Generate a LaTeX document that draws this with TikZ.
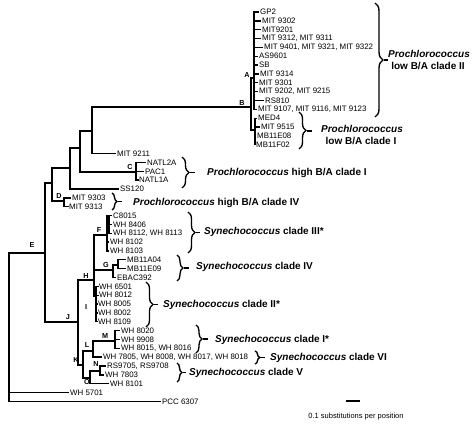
\documentclass[tikz,border=0pt]{standalone}
\usepackage{fontspec}
\setmainfont{Liberation Sans}
\usetikzlibrary{decorations.pathreplacing}
\tikzset{
  br/.style={line width=1.35pt, line cap=rect},
  comb/.style={line width=2.6pt},
  leaf/.style={anchor=west, inner sep=0pt, font=\fontsize{7.9}{8}\selectfont},
  nl/.style={inner sep=0pt, font=\bfseries\fontsize{7.2}{8}\selectfont},
  clade/.style={anchor=west, inner sep=0pt, font=\bfseries\fontsize{10}{11}\selectfont},
  cladec/.style={inner sep=0pt, font=\bfseries\fontsize{10}{11}\selectfont},
  brc/.style={decorate, decoration={brace, amplitude=#1}, line width=1.35pt},
  brc/.default=6,
  tipd/.style={line width=1.2pt},
  scl/.style={inner sep=0pt, font=\fontsize{7.5}{8}\selectfont}
}
\begin{document}
\begin{tikzpicture}[x=1pt,y=-1pt]
\useasboundingbox (0,0) rectangle (474,428);
% ---- leaf labels
\node[leaf] (l0) at (260,12) {GP2};
\node[leaf] (l1) at (262,20.85) {MIT 9302};
\node[leaf] (l2) at (262,29.7) {MIT9201};
\node[leaf] (l3) at (262,38.55) {MIT 9312, MIT 9311};
\node[leaf] (l4) at (264,47.4) {MIT 9401, MIT 9321, MIT 9322};
\node[leaf] (l5) at (259,56.25) {AS9601};
\node[leaf] (l6) at (259,65.1) {SB};
\node[leaf] (l7) at (260,73.95) {MIT 9314};
\node[leaf] (l8) at (259,82.8) {MIT 9301};
\node[leaf] (l9) at (259,91.65) {MIT 9202, MIT 9215};
\node[leaf] (l10) at (265,100.5) {RS810};
\node[leaf] (l11) at (258,109.35) {MIT 9107, MIT 9116, MIT 9123};
\node[leaf] (l12) at (258,118.2) {MED4};
\node[leaf] (l13) at (261,127.05) {MIT 9515};
\node[leaf] (l14) at (257,135.9) {MB11E08};
\node[leaf] (l15) at (256,144.75) {MB11F02};
\node[leaf] (l16) at (117,153.6) {MIT 9211};
\node[leaf] (l17) at (147,162.45) {NATL2A};
\node[leaf] (l18) at (145,171.3) {PAC1};
\node[leaf] (l19) at (139,180.15) {NATL1A};
\node[leaf] (l20) at (120,189.0) {SS120};
\node[leaf] (l21) at (72,197.85) {MIT 9303};
\node[leaf] (l22) at (69,206.7) {MIT 9313};
\node[leaf] (l23) at (113,215.55) {C8015};
\node[leaf] (l24) at (113,224.4) {WH 8406};
\node[leaf] (l25) at (113,233.25) {WH 8112, WH 8113};
\node[leaf] (l26) at (110,242.1) {WH 8102};
\node[leaf] (l27) at (110,250.95) {WH 8103};
\node[leaf] (l28) at (127,259.8) {MB11A04};
\node[leaf] (l29) at (127,268.65) {MB11E09};
\node[leaf] (l30) at (117,277.5) {EBAC392};
\node[leaf] (l31) at (99,286.35) {WH 6501};
\node[leaf] (l32) at (99,295.2) {WH 8012};
\node[leaf] (l33) at (98,304.05) {WH 8005};
\node[leaf] (l34) at (98,312.9) {WH 8002};
\node[leaf] (l35) at (98,321.75) {WH 8109};
\node[leaf] (l36) at (121,330.6) {WH 8020};
\node[leaf] (l37) at (121,339.45) {WH 9908};
\node[leaf] (l38) at (121,348.3) {WH 8015, WH 8016};
\node[leaf] (l39) at (103,357.15) {WH 7805, WH 8008, WH 8017, WH 8018};
\node[leaf] (l40) at (107,366.0) {RS9705, RS9708};
\node[leaf] (l41) at (105,374.85) {WH 7803};
\node[leaf] (l42) at (110,383.7) {WH 8101};
\node[leaf] (l43) at (70,392.55) {WH 5701};
\node[leaf] (l44) at (162,401.4) {PCC 6307};
% ---- root
\draw[br] (9,253) -- (9,401.4);
\draw[br] (9,253) -- (45,253);
\draw[br] (9,392.55) -- ([xshift=-1.5pt]l43.west);
\draw[br] (9,401.4) -- ([xshift=-1.5pt]l44.west);
% E
\draw[br] (45,183) -- (45,322);
\draw[br] (45,183) -- (52,183);
\draw[br] (45,322) -- (78,322);
% W
\draw[br] (52,168) -- (52,201);
\draw[br] (52,168) -- (70,168);
\draw[br] (52,201) -- (64,201);
% D
\draw[br] (64,197.85) -- (64,206.7);
\draw[br] (64,197.85) -- ([xshift=-1.5pt]l21.west);
\draw[br] (64,206.7) -- ([xshift=-1pt]l22.west);
% Z
\draw[br] (70,148) -- (70,189);
\draw[br] (70,148) -- (80,148);
\draw[br] (70,189) -- ([xshift=-1.5pt]l20.west);
% Y
\draw[br] (80,131) -- (80,172);
\draw[br] (80,131) -- (92,131);
\draw[br] (80,172) -- (136,172);
% C
\draw[br] (136,162.45) -- (136,180.15);
\draw[br] (136,162.45) -- ([xshift=-1.5pt]l17.west);
\draw[br] (136,171.3) -- ([xshift=-1.5pt]l18.west);
\draw[br] (136,180.15) -- ([xshift=-1pt]l19.west);
% X
\draw[br] (92,107) -- (92,153.6);
\draw[br] (92,107) -- (251,107);
\draw[br] (92,153.6) -- ([xshift=-1.5pt]l16.west);
% B
\draw[br] (251,78) -- (251,130);
\draw[br] (251,78) -- (254,78);
\draw[br] (251,130) -- (255,130);
% A comb (low B/A clade II)
\draw[comb] (254,11) -- (254,110);
\foreach \i in {0,...,11} {\draw[br] (254,0 |- l\i.west) -- ([xshift=-1.5pt]l\i.west);}
% low B/A clade I
\draw[line width=2pt] (255,117.5) -- (255,145.3);
\foreach \i in {12,...,15} {\draw[br] (255,0 |- l\i.west) -- ([xshift=-1.2pt]l\i.west);}
% J
\draw[br] (78,280) -- (78,365);
\draw[br] (78,280) -- (94,280);
\draw[br] (78,365) -- (83,365);
% H
\draw[br] (94,235) -- (94,296);
\draw[br] (94,235) -- (107,235);
\draw[br] (94,270) -- (113,270);
% F
\draw[br] (107,215.55) -- (107,250.95);
\draw[line width=2pt] (109,215.55) -- (109,233.25);
\foreach \i in {23,...,27} {\draw[br] (107,0 |- l\i.west) -- ([xshift=-1.5pt]l\i.west);}
% G
\draw[br] (113,265) -- (113,277.5);
\draw[br] (113,265) -- (118,265);
\draw[br] (113,277.5) -- ([xshift=-1.5pt]l30.west);
\draw[br] (118,259.8) -- (118,268.65);
\draw[br] (118,259.8) -- ([xshift=-1.5pt]l28.west);
\draw[br] (118,268.65) -- ([xshift=-1.5pt]l29.west);
% I
\draw[line width=2pt] (95.5,286.35) -- (95.5,305);
\draw[br] (96,286.35) -- (96,321.75);
\foreach \i in {31,...,35} {\draw[br] (96,0 |- l\i.west) -- ([xshift=-1pt]l\i.west);}
% K
\draw[br] (83,351) -- (83,378);
\draw[br] (83,351) -- (93,351);
\draw[br] (83,378) -- (90,378);
% L
\draw[br] (93,341) -- (93,357.15);
\draw[br] (93,341) -- (115,341);
\draw[br] (93,357.15) -- ([xshift=-1.5pt]l39.west);
% M
\draw[br] (115,330.6) -- (115,348.3);
\foreach \i in {36,37,38} {\draw[br] (115,0 |- l\i.west) -- ([xshift=-1.5pt]l\i.west);}
% O
\draw[br] (90,371) -- (90,383.7);
\draw[br] (90,371) -- (100,371);
\draw[br] (90,383.7) -- ([xshift=-1.5pt]l42.west);
% N
\draw[br] (100,366) -- (100,374.85);
\draw[br] (100,366) -- ([xshift=-1.5pt]l40.west);
\draw[br] (100,374.85) -- ([xshift=-1.5pt]l41.west);
% ---- internal node letters
\node[nl] (nA) at (247,75) {A};
\node[nl] (nB) at (242,103) {B};
\node[nl] (nC) at (130,167) {C};
\node[nl] (nD) at (59,196) {D};
\node[nl] (nE) at (32,245) {E};
\node[nl] (nF) at (99,230) {F};
\node[nl] (nG) at (106,265) {G};
\node[nl] (nH) at (86,276) {H};
\node[nl] (nI) at (86,307) {I};
\node[nl] (nJ) at (68,317) {J};
\node[nl] (nK) at (76,360) {K};
\node[nl] (nL) at (87,345) {L};
\node[nl] (nM) at (105,336) {M};
\node[nl] (nN) at (96,364) {N};
\node[nl] (nO) at (87,382) {O};
% ---- clade braces and labels
\draw[brc=8] (375,3) -- (375,117);
\draw[tipd] (384,60) -- (388,60);
\node[cladec] (c1) at (429,54) {\textit{Prochlorococcus}};
\node[cladec] (c1b) at (428,66) {low B/A clade II};
\draw[brc=7] (299,112) -- (299,149);
\draw[tipd] (307,131) -- (312,131);
\node[cladec] (c2) at (362,129) {\textit{Prochlorococcus}};
\node[cladec] (c2b) at (361,141) {low B/A clade I};
\draw[brc=7] (182,157) -- (182,188);
\draw[tipd] (190,172.5) -- (195,172.5);
\node[clade] (c3) at (207,173) {\textit{Prochlorococcus} high B/A clade I};
\draw[brc=5] (112,193) -- (112,210);
\draw[tipd] (118,201.5) -- (122,201.5);
\node[clade] (c4) at (133,203) {\textit{Prochlorococcus} high B/A clade IV};
\draw[brc=7] (188,212) -- (188,253);
\draw[tipd] (196,232.5) -- (200,232.5);
\node[clade] (c5) at (204,232) {\textit{Synechococcus} clade III*};
\draw[brc=6] (177,255) -- (177,281);
\draw[tipd] (184,268) -- (189,268);
\node[clade] (c6) at (196,267) {\textit{Synechococcus} clade IV};
\draw[brc=7] (146,282) -- (146,327);
\draw[tipd] (154,304.5) -- (158,304.5);
\node[clade] (c7) at (163,305) {\textit{Synechococcus} clade II*};
\draw[brc=6] (196,325) -- (196,353);
\draw[tipd] (203,339) -- (208,339);
\node[clade] (c8) at (215,340) {\textit{Synechococcus} clade I*};
\draw[brc=5] (255,351) -- (255,364);
\draw[tipd] (261,357.5) -- (265,357.5);
\node[clade] (c9) at (270,358) {\textit{Synechococcus} clade VI};
\draw[brc=5] (177,363) -- (177,382);
\draw[tipd] (183,372.5) -- (186,372.5);
\node[clade] (c10) at (189,373) {\textit{Synechococcus} clade V};
% ---- scale bar
\coordinate (sb1) at (346,401);
\coordinate (sb2) at (360,401);
\draw[line width=1.6pt] (sb1) -- (sb2);
\node[scl] (sbt) at (356,417) {0.1 substitutions per position};
\end{tikzpicture}
\end{document}
